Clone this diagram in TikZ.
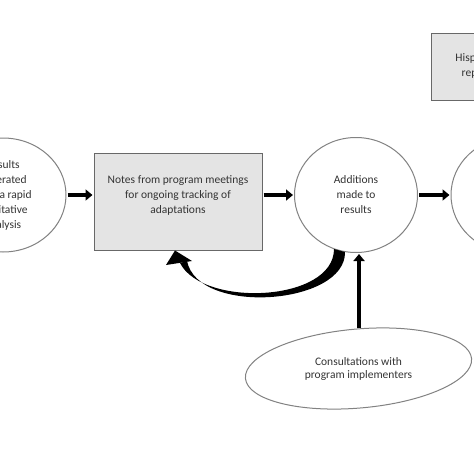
\documentclass[tikz,border=0pt]{standalone}
\usepackage{fontspec}
\setmainfont{Carlito}
\usetikzlibrary{arrows.meta,shapes.geometric,calc}
\definecolor{boxgray}{RGB}{228,228,228}
\definecolor{linegray}{RGB}{130,130,130}
\definecolor{textgray}{RGB}{52,52,52}
\tikzset{
  stage/.style={ellipse, draw=linegray, line width=1pt, fill=white, inner sep=0pt},
  notebox/.style={rectangle, draw=linegray!80!black, line width=1pt, fill=boxgray, inner sep=0pt},
  txt/.style={text=textgray, align=center, font=\fontsize{11.5}{15}\selectfont},
  flow/.style={line width=4pt, -{Triangle[length=7pt,width=11pt]}, shorten <=1pt, shorten >=1pt}
}
\begin{document}
\begin{tikzpicture}[x=1pt,y=-1pt]
\useasboundingbox (0,0) rectangle (474,474);
\node [stage, minimum width=126pt, minimum height=114pt] (res) at (3,195) {};
\node [txt] (res text) at (res.center) {Results\\generated\\from a rapid\\qualitative\\analysis};
\node [notebox, minimum width=168pt, minimum height=97pt] (notes) at (178,201.5) {};
\node [txt] (notes text) at (178,195) {Notes from program meetings\\for ongoing tracking of\\adaptations};
\node [stage, txt, minimum width=123pt, minimum height=115pt] (add) at (356,195) {Additions\\made to\\results};
\node [stage, minimum width=122pt, minimum height=115pt] (next) at (512,195) {};
\node [notebox, minimum width=176pt, minimum height=67pt] (hisp) at (519,66.5) {};
\node [txt] (hisp text) at (515,66) {Hispanic health promoter\\reports on adaptations};
\node [stage, minimum width=227pt, minimum height=79pt, rotate=5] (cons) at (358.5,368.5) {};
\node [txt, font=\fontsize{11.5}{13}\selectfont] (cons text) at (cons.center) {Consultations with\\program implementers};

\draw [flow] (res.east) -- (res.east -| notes.west);
\draw [flow] (notes.east |- add.west) -- (add.west);
\draw [flow] (add.east) -- (next.west);
\coordinate (up) at ([xshift=4pt]cons.north);
\draw [flow] (up) -- (up |- add.south);

\fill ($(add.south)+(-11,-1)$) .. controls (346,305) and (198,316) .. (187,261)
  -- (180,263) .. controls (203,308) and (334,302) .. ($(add.south)+(-22,-4)$) -- cycle;
\fill ($(notes.south)+(-3,0)$) -- (166,265) -- (192,261) -- cycle;
\end{tikzpicture}
\end{document}
